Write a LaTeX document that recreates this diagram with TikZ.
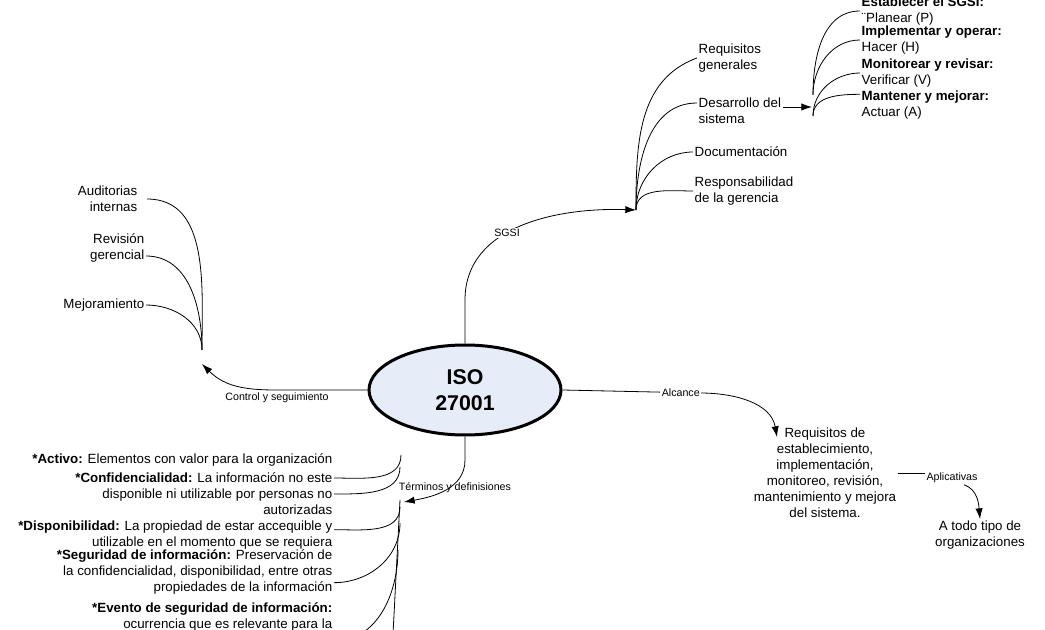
\documentclass[tikz,border=0pt]{standalone}
\usepackage{fontspec}
\setmainfont{Liberation Sans}
\usetikzlibrary{shapes.geometric,arrows.meta}
\definecolor{isofill}{RGB}{230,236,248}
\begin{document}
\begin{tikzpicture}[x=0.75pt,y=-0.75pt,line width=0.6pt,>={Latex[length=8pt,width=5.5pt]},
  iso/.style={ellipse,draw,line width=2.25pt,fill=isofill,minimum width=144pt,minimum height=67.5pt,align=center,font=\fontsize{16}{19}\selectfont\bfseries},
  item/.style={align=left,inner sep=1pt,font=\fontsize{10}{12}\selectfont},
  term/.style={item,align=right,anchor=east},
  lbl/.style={inner sep=1pt,font=\fontsize{8}{9.6}\selectfont}]
\useasboundingbox (0,0) rectangle (1045,630);
\node[iso](iso)at(465,390){ISO\\27001};
\coordinate(sgsi)at(636,210);
\draw[->](iso.north)--(465,300)to[out=90,in=178]node[lbl,fill=white,pos=0.42](sgsilbl){SGSI}(sgsi);
\node[item,anchor=west](reqgen)at(697,58){Requisitos\\generales};
\node[item,anchor=west](desa)at(697,111){Desarrollo del\\sistema};
\node[item,anchor=west](doc)at(693,152){Documentación};
\node[item,anchor=west](resp)at(693,191){Responsabilidad\\de la gerencia};
\draw(sgsi)to[out=90,in=200](reqgen.west);
\draw(sgsi)to[out=90,in=180]([yshift=6pt]desa.west);
\draw(sgsi)to[out=90,in=180](doc.west);
\draw(sgsi)to[out=90,in=180](resp.west);
\coordinate(pdca)at(812,107);
\coordinate(pdcat)at(813,95);
\coordinate(pdcab)at(813,116);
\draw[->](desa.east|-pdca)--(pdca);
\node[item,anchor=west](est)at(860,11){\textbf{Establecer el SGSI:}\\¨Planear (P)};
\node[item,anchor=west](imp)at(860,40){\textbf{Implementar y operar:}\\Hacer (H)};
\node[item,anchor=west](mon)at(860,73){\textbf{Monitorear y revisar:}\\Verificar (V)};
\node[item,anchor=west](man)at(860,105){\textbf{Mantener y mejorar:}\\Actuar (A)};
\draw(pdcat)to[out=90,in=180](est.west);
\draw(pdcat)to[out=90,in=180](imp.west);
\draw(pdcab)to[out=90,in=180](mon.west);
\draw(pdcab)to[out=90,in=180]([yshift=8pt]man.west);
\coordinate(ctrl)at(202,364);
\coordinate(cb)at(202,350);
\draw[->](iso.west)--(300,390)to[out=180,in=-45](ctrl);
\node[lbl](ctrllbl)at(277,398){Control y seguimiento};
\node[term](aud)at(139,199){Auditorias\\internas};
\node[term](rev)at(146,248){Revisión\\gerencial};
\node[term](mej)at(146,305){Mejoramiento};
\draw(cb)to[out=90,in=0]([xshift=6pt]aud.east);
\draw(cb)to[out=90,in=0]([yshift=-6pt]rev.east);
\draw(cb)to[out=90,in=0](mej.east);
\coordinate(trm)at(404,502);
\draw[->](iso.south)--(465,460)to[out=-90,in=10](trm);
\node[lbl](trmlbl)at(455,488){Términos y definisiones};
\node[term](act)at(334,460){\textbf{*Activo:} Elementos con valor para la organización};
\node[term](conf)at(334,494){\textbf{*Confidencialidad:} La información no este\\disponible ni utilizable por personas no\\autorizadas};
\node[term](disp)at(334,535){\textbf{*Disponibilidad:} La propiedad de estar accequible y\\utilizable en el momento que se requiera};
\node[term](seg)at(334,572){\textbf{*Seguridad de información:} Preservación de\\la confidencialidad, disponibilidad, entre otras\\propiedades de la información};
\node[term](evt)at(334,617){\textbf{*Evento de seguridad de información:}\\ocurrencia que es relevante para la};
\coordinate(ta)at(401,455);
\coordinate(tb)at(400,467);
\coordinate(tc)at(400,507);
\coordinate(td)at(400,523);
\coordinate(te)at(398,550);
\coordinate(tf)at(400,500);
\coordinate(tg)at(393,634);
\draw(ta)to[out=-90,in=0]([yshift=12pt]conf.east);
\draw(tb)to[out=-90,in=0](conf.east);
\draw(tc)to[out=-90,in=0]([yshift=4pt]disp.east);
\draw(td)to[out=-90,in=0]([yshift=-8pt]seg.east);
\draw(te)to[out=-90,in=0]([yshift=-18pt]evt.east);
\draw(tf)--(tg);
\coordinate(alc)at(777,437);
\draw[->](iso.east)--node[lbl,fill=white,pos=0.86](alclbl){Alcance}(700,393)to[out=0,in=100](alc);
\node[item,align=center](reqalc)at(825,473){Requisitos de\\establecimiento,\\implementación,\\monitoreo, revisión,\\mantenimiento y mejora\\del sistema.};
\node[lbl](apl)at(952,478){Aplicativas};
\draw(reqalc.east)--(reqalc.east-|apl.west);
\node[item,align=center](todo)at(980,535){A todo tipo de\\organizaciones};
\draw[->]([xshift=9pt]apl.south)to[out=-20,in=95](todo.north);
\end{tikzpicture}
\end{document}
